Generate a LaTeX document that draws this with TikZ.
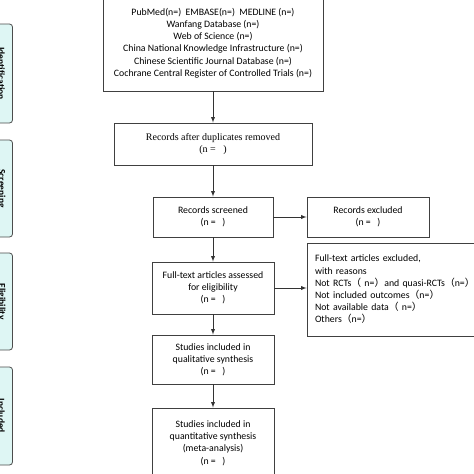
\documentclass[tikz,border=0pt]{standalone}
\usepackage{fontspec}
\setmainfont{Carlito}
\newfontfamily\serifbox{Liberation Serif}
\newfontfamily\cjk{Noto Sans CJK SC}
\definecolor{tabfill}{RGB}{222,246,244}
\newcommand{\lp}{{\cjk （}}
\newcommand{\rp}{{\cjk ）}}
\begin{document}
\begin{tikzpicture}[x=1pt,y=-1pt,->,>=latex,font=\fontsize{9.8}{12.2}\selectfont]
        \tikzstyle{record}=[draw=black!75,line width=0.9pt,fill=white,align=center,inner sep=0pt]
        \tikzstyle{phase}=[draw=black!70,line width=0.8pt,fill=tabfill,rounded corners=3pt,rotate=-90,minimum height=22pt,inner sep=0pt,font=\fontsize{9.5}{11}\selectfont\bfseries]
        \tikzstyle{edge}=[draw,line width=0.9pt,black!80]
        \useasboundingbox (0,0) rectangle (474,474);
       \begin{scope}
         % phases on the left
         \node [phase,minimum width=99pt] (ident) at (1.5,73.5) {Identification};
         \node [phase,minimum width=97pt] (screen) at (1.5,188.5) {Screening};
         \node [phase,minimum width=97pt] (elig) at (1.5,301.5) {Eligibility};
         \node [phase,minimum width=98pt] (incl) at (1.5,416) {Included};
         % boxes
         \node [record,minimum width=220pt,minimum height=96pt] (search) at (213,43) {PubMed(n=)\ \ EMBASE(n=)\ \ MEDLINE (n=)\\Wanfang Database (n=)\\Web of Science (n=)\\China National Knowledge Infrastructure (n=)\\Chinese Scientific Journal Database (n=)\\Cochrane Central Register of Controlled Trials (n=)};
         \node [record,minimum width=198pt,minimum height=42pt,font=\serifbox\fontsize{10}{12}\selectfont] (dedup) at (213,144) {Records after duplicates removed\\(n =\ \ \ )};
         \node [record,minimum width=120pt,minimum height=40pt] (screened) at (213,217) {Records screened\\(n =\ \ \ )};
         \node [record,minimum width=122pt,minimum height=40pt] (excl) at (368,217) {Records excluded\\(n =\ \ \ )};
         \node [record,minimum width=122pt,minimum height=52pt] (full) at (213,288) {Full-text articles assessed\\for eligibility\\(n =\ \ \ )};
         \node [record,minimum height=93pt,text width=163pt,inner xsep=8pt,align=left] (fullexcl) at (396.5,289.5) {Full-text articles excluded,\\with reasons\\Not RCTs\lp{} n=\rp and quasi-RCTs\lp n=\rp\\Not included outcomes\lp n=\rp\\Not available data\lp{} n=\rp\\Others\lp n=\rp};
         \node [record,minimum width=122pt,minimum height=49pt] (quali) at (213,359.5) {Studies included in\\qualitative synthesis\\(n =\ \ \ )};
         \node [record,minimum width=122pt,minimum height=70pt] (quanti) at (213,443) {Studies included in\\quantitative synthesis\\(meta-analysis)\\(n =\ \ \ )};
         % arrows
         \path[edge] (search) edge (dedup);
         \path[edge] (dedup) edge (screened);
         \path[edge] (screened) edge (excl);
         \path[edge] (screened) edge (full);
         \path[edge] (full) edge (full -| fullexcl.west);
         \path[edge] (full) edge (quali);
         \path[edge] (quali) edge (quanti);
        \end{scope}
      \end{tikzpicture}
\end{document}
